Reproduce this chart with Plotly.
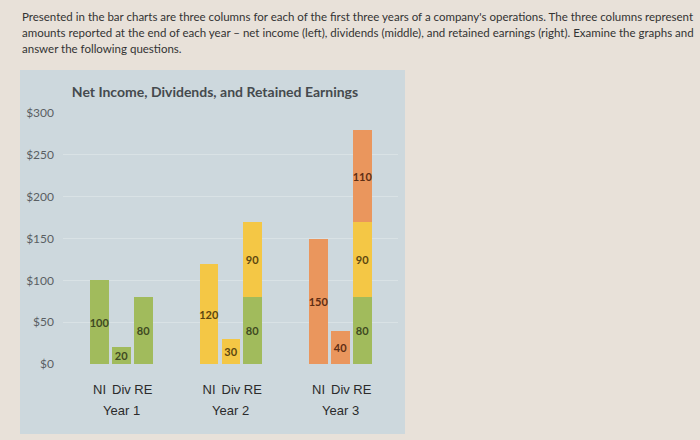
import plotly.graph_objects as go

# ---------------- data ----------------
years = ["Year 1", "Year 2", "Year 3"]
bar_names = ["NI", "Div", "RE"]
net_income = [100, 120, 150]
dividends = [20, 30, 40]
retained_added = [80, 90, 110]   # NI - Div of each year, stacked into RE
y_ticks = [0, 50, 100, 150, 200, 250, 300]
y_tick_labels = ["$0", "$50", "$100", "$150", "$200", "$250", "$300"]

year_colors = ["#a1bb5c", "#f4c745", "#ea965d"]
label_colors = ["#3f4a22", "#5c4610", "#5e2e14"]

question_lines = [
    "Presented in the bar charts are three columns for each of the first three years of a company's operations. The three columns represent",
    "amounts reported at the end of each year \u2013 net income (left), dividends (middle), and retained earnings (right). Examine the graphs and",
    "answer the following questions.",
]
title = "Net Income, Dividends, and Retained Earnings"

# ---------------- layout helpers ----------------
W, H = 700, 440
L, R, T, B = 63, 398, 113, 364
GROUP_GAP = 5  # slots between year groups
PAGE_BG = "#e8e1d9"


def pos(year_idx, bar_idx):
    return year_idx * GROUP_GAP + bar_idx


def px_x(px):
    return (px - L) / (R - L)


def px_y(py):
    return (B - py) / (B - T)


fig = go.Figure()

for j, yr in enumerate(years):
    xs, vals = [], []
    xs.append(pos(j, 0)); vals.append(net_income[j])
    xs.append(pos(j, 1)); vals.append(dividends[j])
    for k in range(j, len(years)):
        xs.append(pos(k, 2)); vals.append(retained_added[j])
    fig.add_trace(go.Bar(
        x=xs, y=vals, name=yr, width=0.86,
        marker=dict(color=year_colors[j], line=dict(width=0)),
        text=[str(v) for v in vals], textposition="inside",
        insidetextanchor="middle", constraintext="none",
        textfont=dict(family="Lato", size=11, color=label_colors[j], weight="bold"),
        textangle=0, cliponaxis=False, showlegend=False, hoverinfo="skip",
    ))

tickvals = [pos(j, b) for j in range(len(years)) for b in range(len(bar_names))]
ticktext = [bar_names[b] for j in range(len(years)) for b in range(len(bar_names))]

fig.update_layout(
    width=W, height=H,
    margin=dict(l=L, r=W - R, t=T, b=H - B, pad=0),
    paper_bgcolor=PAGE_BG,
    plot_bgcolor="rgba(0,0,0,0)",
    barmode="stack", bargap=0,
    title=dict(text="<b>" + title + "</b>", xref="container", yref="container",
               x=215 / W, y=1 - 92 / H, xanchor="center", yanchor="middle",
               font=dict(family="Lato", size=14, color="#454a4e")),
    xaxis=dict(range=[-1.67, 13.63], tickvals=tickvals, ticktext=ticktext,
               showgrid=False, zeroline=False, showline=False, ticks="",
               ticklabelstandoff=16,
               tickfont=dict(family="Liberation Sans", size=13, color="#2b2b2b")),
    yaxis=dict(range=[0, 300], tickvals=y_ticks, ticktext=y_tick_labels,
               showgrid=True, gridcolor="rgba(255,255,255,0.25)", gridwidth=1,
               zeroline=False, showline=False, ticks="", ticklabelstandoff=8,
               tickfont=dict(family="Lato", size=12, color="#5a5f63")),
    shapes=[dict(type="rect", xref="paper", yref="paper", layer="below",
                 x0=px_x(20), x1=px_x(405), y0=px_y(434), y1=px_y(70),
                 fillcolor="#cdd8dd", line=dict(width=0))],
)

annotations = []
for i, line in enumerate(question_lines):
    annotations.append(dict(text=line, xref="paper", yref="paper", x=px_x(20),
                            y=px_y(17 + i * 15.5), xanchor="left", yanchor="middle",
                            align="left", showarrow=False,
                            font=dict(family="Lato", size=11.5, color="#333333")))
for j, yr in enumerate(years):
    annotations.append(dict(text=yr, xref="x", yref="paper", x=pos(j, 1), y=px_y(410),
                            xanchor="center", yanchor="middle", showarrow=False,
                            font=dict(family="Liberation Sans", size=13, color="#2b2b2b")))
fig.update_layout(annotations=annotations)

fig.write_html(
    "out.html",
    config={"displayModeBar": False},
    post_script=("document.body.style.margin='0';document.body.style.padding='0';"
                 "document.body.style.background='" + PAGE_BG + "';"
                 "document.body.style.overflow='hidden';"),
)
